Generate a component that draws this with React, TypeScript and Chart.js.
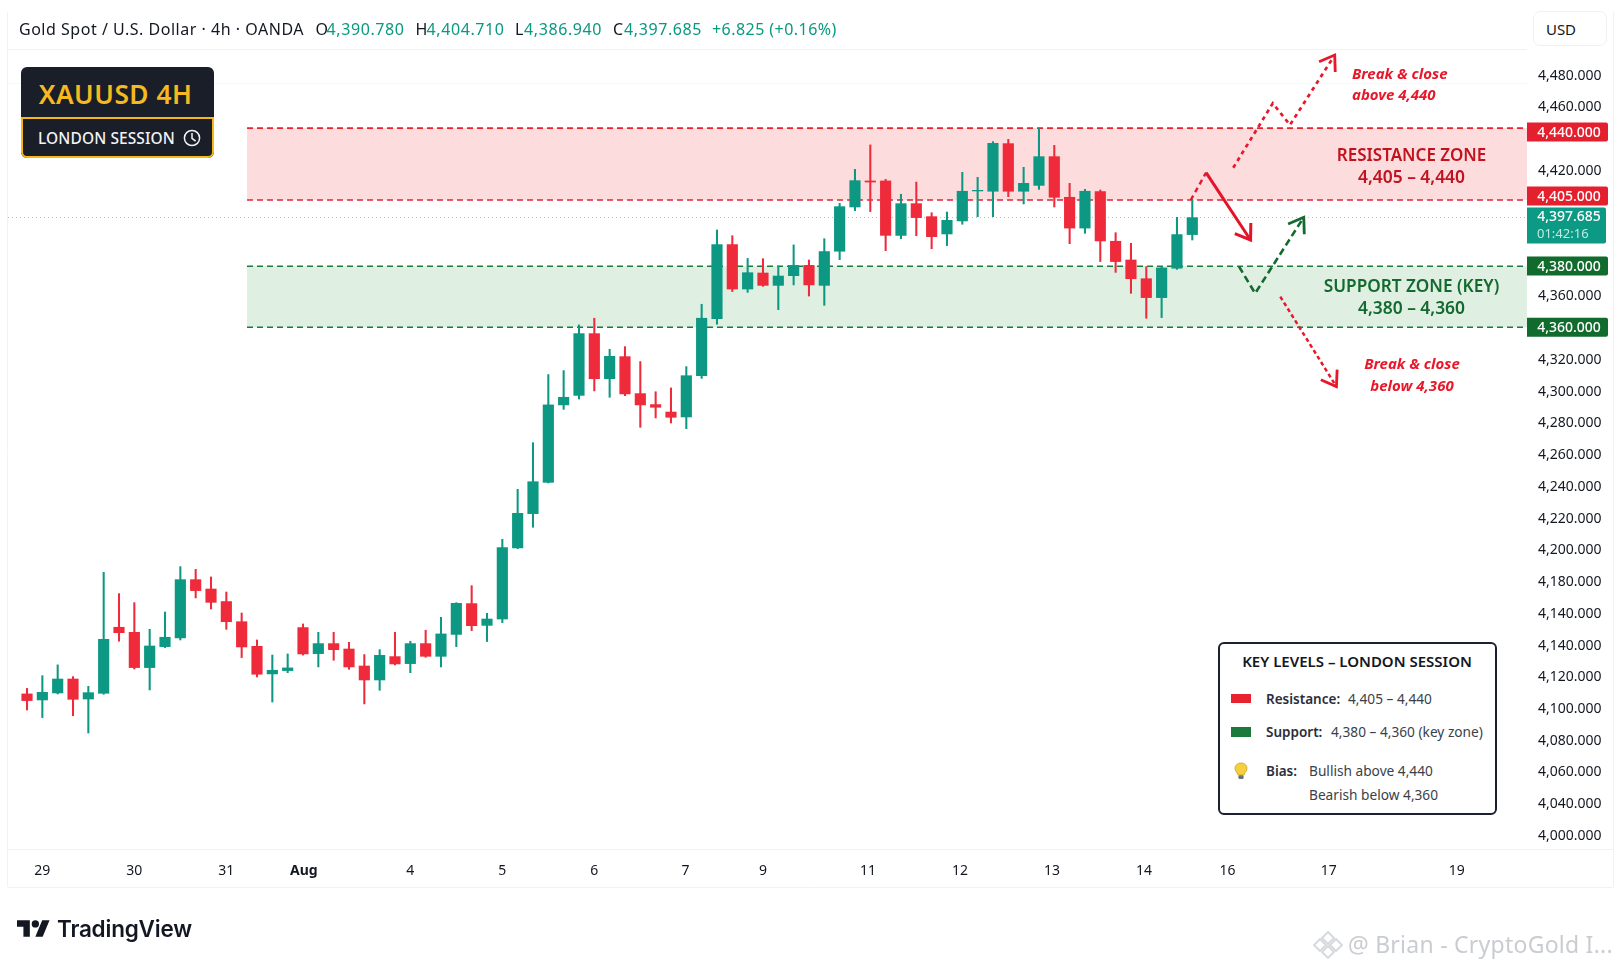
import React, { useEffect, useRef } from "react";
import { Chart, registerables } from "chart.js";

Chart.register(...registerables);

const opens = [4108.5,4104.7,4109.1,4117.9,4105.3,4108.9,4150.5,4147.3,4125.1,4138.3,4143.8,4180.5,4174.6,4166.7,4154,4138.5,4121.1,4123.2,4150.3,4133.9,4140.2,4136.8,4126.1,4117.3,4132,4127.6,4140.2,4132.2,4146,4165.4,4151.7,4155.7,4200.5,4222.1,4241.8,4290.6,4296.6,4335.5,4307.1,4321,4297.7,4290.8,4286.1,4283,4309,4344.9,4391.6,4363.6,4373.7,4365.9,4372,4378.5,4365.9,4387.4,4415.3,4431.7,4431.7,4397.4,4417.4,4409.2,4398.3,4406.5,4425.4,4425.2,4455.2,4425.2,4428.9,4447,4421.4,4402,4425,4393.7,4381.9,4370.1,4358.2,4376.7,4397.9];
const highs = [4112,4120,4126.8,4119.4,4113.3,4185.1,4171.7,4166,4149.2,4160.1,4188.7,4187,4182.2,4172.7,4159.5,4142.5,4133,4133.7,4152.6,4147.3,4147.3,4141,4133.3,4136.4,4147.3,4141.7,4148.6,4156.8,4166,4176.7,4159.3,4205.9,4237.4,4266.8,4309.7,4312.2,4341,4345.2,4325.6,4327.3,4317.9,4298.9,4301.3,4314.7,4354,4400.8,4397.2,4382.9,4382.7,4378.1,4391.4,4381.9,4395.3,4417.6,4439,4454.4,4432.7,4423.3,4431,4411.7,4412.1,4437.1,4434,4456.5,4457.9,4440.3,4464.9,4454.1,4430.2,4426.4,4426,4399.1,4392.4,4377.7,4377.7,4408.8,4419.7];
const lows = [4098.4,4093.6,4108.5,4094.8,4083.9,4108.3,4141.7,4124.2,4111,4137.7,4142.5,4169,4162,4149.2,4131.4,4119.2,4103.4,4121.9,4133,4125.5,4129.7,4124,4102.2,4110.8,4126.8,4121.9,4131.6,4125.5,4138.3,4148.4,4141.5,4153.4,4200,4213.5,4241.4,4287.8,4294.3,4299.4,4295.4,4296.4,4276.5,4282.4,4279.2,4275.6,4307.3,4341.4,4362,4361.5,4365.3,4350.6,4366.2,4359.2,4353.3,4382.1,4413,4412.4,4387.8,4395.3,4397.2,4389,4391,4404.4,4409.2,4409.2,4421.8,4417.2,4426.4,4415.3,4392.2,4398.7,4380.9,4374.1,4360.9,4345.2,4345.6,4376,4394.5];
const closes = [4104.3,4109.5,4117.9,4105.1,4109.3,4142.9,4147.1,4125.1,4138.7,4144.2,4180.5,4173.6,4166.2,4154,4138.1,4120.9,4123.4,4124.9,4133.7,4140.2,4136.4,4125.5,4117.3,4132.8,4127.4,4140.2,4132.2,4146.3,4165.6,4151.5,4155.7,4200.7,4222.3,4242.2,4290.6,4295.4,4335.5,4307.1,4321.2,4297.5,4290.6,4289.1,4282.8,4309,4345.2,4391.6,4363.6,4373.9,4365.9,4371.8,4378.5,4366.2,4387.2,4415.5,4431.9,4431,4397.4,4417.4,4408.6,4396.6,4406.9,4425.2,4425.8,4455.4,4425.2,4430.2,4447,4421.4,4402,4425.2,4393.9,4380.9,4370.1,4358.2,4376.9,4397.9,4408.6];

// X axis
const xTickPositions = [1,7,13,18.05,25,31,37,42.95,48,54.85,60.85,66.85,72.85,78.3,84.9,93.25];
const xTickLabels = ["29","30","31","Aug","4","5","6","7","9","11","12","13","14","16","17","19"];

// Y axis: position on the scale, and the label the picture prints there
const yTickPositions = [4498,4478,4438,4359,4319,4299,4279,4259,4239,4219,4199,4179,4159,4139,4119,4099,4079,4059,4039,4019];
const yTickLabels = ["4,480.000","4,460.000","4,420.000","4,360.000","4,320.000","4,300.000","4,280.000","4,260.000","4,240.000","4,220.000","4,200.000","4,180.000","4,140.000","4,140.000","4,120.000","4,100.000","4,080.000","4,060.000","4,040.000","4,000.000"];

// Zones: where the dashed levels sit on the scale
const resistanceLevels = [4465, 4419.7];
const supportLevels = [4378, 4339.5];
const lastPriceLevel = 4409;
const faintGridLevel = 4493.2;
const zoneStartIndex = 14.35;

// Price badges on the axis
const badgeValues = [4462.5, 4422.2, 4378.1, 4339.5];
const badgeTexts = ["4,440.000", "4,405.000", "4,380.000", "4,360.000"];
const badgeColors = ["#e5202e", "#e5202e", "#116b2c", "#116b2c"];
const lastPriceTexts = ["4,397.685", "01:42:16"];

// Scenario paths (candle index, scale value)
const pathBreakUp = [{x:78.67,y:4440},{x:81.25,y:4480.6},{x:82.37,y:4467},{x:85.29,y:4511}];
const pathRejectLead = [{x:75.9,y:4419.7},{x:76.9,y:4436.9}];
const pathReject = [{x:76.9,y:4436.9},{x:79.8,y:4394.5}];
const pathBounce = [{x:79.05,y:4377.7},{x:80.1,y:4360.9},{x:83.27,y:4408.8}];
const pathBreakDown = [{x:81.74,y:4358.8},{x:85.4,y:4302.1}];

const UP = "#0c9882";
const DOWN = "#ee2a3b";
const RED = "#e8182a";
const FONT = '"Noto Sans"';

const stagePlugin = {
  id: "stage",
  beforeDatasetsDraw(chart: any) {
    const { ctx, chartArea: a, scales: { x, y } } = chart;
    const zx = x.getPixelForValue(zoneStartIndex);
    ctx.save();
    ctx.strokeStyle = "#f1f2f5";
    ctx.lineWidth = 1;
    const line = (x0: number, y0: number, x1: number, y1: number) => {
      ctx.beginPath(); ctx.moveTo(x0, y0); ctx.lineTo(x1, y1); ctx.stroke();
    };
    line(a.left - 0.5, 12, a.left - 0.5, 887);
    line(1613.5, 12, 1613.5, 887);
    line(a.left, a.top - 0.5, a.right, a.top - 0.5);
    line(a.left, a.bottom + 0.5, 1613, a.bottom + 0.5);
    line(a.left, 887.5, 1613, 887.5);
    ctx.strokeStyle = "#f6f7f9";
    line(a.left, y.getPixelForValue(faintGridLevel), a.right, y.getPixelForValue(faintGridLevel));
    const zone = (levels: number[], fill: string, stroke: string) => {
      const t = y.getPixelForValue(levels[0]);
      const b = y.getPixelForValue(levels[1]);
      ctx.fillStyle = fill;
      ctx.fillRect(zx, t, a.right - zx, b - t);
      ctx.strokeStyle = stroke;
      ctx.lineWidth = 1.6;
      ctx.setLineDash([6, 4]);
      line(zx, t, a.right, t);
      line(zx, b, a.right, b);
      ctx.setLineDash([]);
    };
    zone(resistanceLevels, "#fddcdd", "#e8232f");
    zone(supportLevels, "#dfefe2", "#1b7a3c");
    ctx.strokeStyle = "#86d6c7";
    ctx.lineWidth = 1;
    ctx.setLineDash([1, 3]);
    const lp = Math.round(y.getPixelForValue(lastPriceLevel)) + 0.5;
    line(a.left, lp, a.right, lp);
    ctx.restore();
  },
  afterDatasetsDraw(chart: any) {
    const { ctx, data } = chart;
    data.datasets.forEach((ds: any, i: number) => {
      if (!ds.arrowHead) return;
      const pts = chart.getDatasetMeta(i).data;
      const p = pts[pts.length - 1];
      const q = pts[pts.length - 2];
      const ang = Math.atan2(p.y - q.y, p.x - q.x);
      ctx.save();
      ctx.strokeStyle = ds.borderColor;
      ctx.lineWidth = ds.arrowWidth;
      ctx.lineCap = "butt";
      ctx.lineJoin = "miter";
      ctx.beginPath();
      ctx.moveTo(p.x - 17 * Math.cos(ang - 0.6), p.y - 17 * Math.sin(ang - 0.6));
      ctx.lineTo(p.x, p.y);
      ctx.lineTo(p.x - 17 * Math.cos(ang + 0.6), p.y - 17 * Math.sin(ang + 0.6));
      ctx.stroke();
      ctx.restore();
    });
  },
  afterDraw(chart: any) {
    const { ctx, chartArea: a, scales: { y } } = chart;
    ctx.save();
    ctx.textBaseline = "middle";
    const textX = 1569;
    const round = (x0: number, y0: number, w: number, h: number, fill: string) => {
      ctx.fillStyle = fill;
      ctx.beginPath();
      ctx.roundRect(x0, y0, w, h, [0, 2, 2, 0]);
      ctx.fill();
    };
    badgeValues.forEach((v, i) => {
      const c = y.getPixelForValue(v);
      round(a.right, c - 9.5, 81, 19, badgeColors[i]);
      ctx.fillStyle = "#ffffff";
      ctx.textAlign = "center";
      ctx.font = `500 14px ${FONT}`;
      ctx.fillText(badgeTexts[i], textX, c + 0.5);
    });
    const c = y.getPixelForValue(lastPriceLevel);
    round(a.right, c - 9.5, 79, 36, "#0c9a85");
    ctx.textAlign = "center";
    ctx.fillStyle = "#ffffff";
    ctx.font = `500 14px ${FONT}`;
    ctx.fillText(lastPriceTexts[0], textX, c);
    ctx.fillStyle = "#bfe9e1";
    ctx.font = `400 13px ${FONT}`;
    ctx.textAlign = "left";
    ctx.fillText(lastPriceTexts[1], 1537, c + 17);
    ctx.restore();
  },
};

const T = ({ x, y, c = "#131722", s = 14, w = 400, i = false, center = false, f = FONT, ls = 0, children }: any) => (
  <div
    style={{
      position: "absolute",
      left: x,
      top: y,
      transform: center ? "translate(-50%,-50%)" : "translateY(-50%)",
      color: c,
      fontSize: s,
      fontWeight: w,
      fontStyle: i ? "italic" : "normal",
      fontFamily: f,
      letterSpacing: ls,
      whiteSpace: "nowrap",
      lineHeight: 1.2,
    }}
  >
    {children}
  </div>
);

const TEAL = "#089981";

export default function App() {
  const ref = useRef<HTMLCanvasElement>(null);

  useEffect(() => {
    const idx = opens.map((_, i) => i);
    const colors = idx.map((i) => (closes[i] >= opens[i] ? UP : DOWN));
    const pathDs = (data: any[], color: string, dash: number[], width: number, head: boolean) => ({
      type: "line" as const,
      data,
      borderColor: color,
      borderDash: dash,
      borderWidth: width,
      pointRadius: 0,
      tension: 0,
      order: 0,
      arrowHead: head,
      arrowWidth: Math.max(width, 2.8),
    });
    const chart = new Chart(ref.current as HTMLCanvasElement, {
      type: "bar",
      data: {
        datasets: [
          pathDs(pathBreakUp, RED, [4, 4], 2.7, true),
          pathDs(pathRejectLead, RED, [5, 4], 2.4, false),
          pathDs(pathReject, "#e5132a", [], 3, true),
          pathDs(pathBounce, "#14692f", [7, 4], 2.6, true),
          pathDs(pathBreakDown, RED, [4, 3], 2.5, true),
          {
            type: "bar" as const,
            data: idx.map((i) => ({ x: i, y: [opens[i], closes[i]] })),
            backgroundColor: colors,
            barThickness: 10.5,
            grouped: false,
            order: 1,
          },
          {
            type: "bar" as const,
            data: idx.map((i) => ({ x: i, y: [lows[i], highs[i]] })),
            backgroundColor: colors,
            barThickness: 1.4,
            grouped: false,
            order: 2,
          },
        ] as any,
      },
      plugins: [stagePlugin],
      options: {
        animation: false,
        responsive: false,
        devicePixelRatio: 1,
        events: [],
        parsing: { xAxisKey: "x", yAxisKey: "y" } as any,
        layout: { padding: { left: 8, right: 8, top: 50, bottom: 83 } },
        plugins: { legend: { display: false }, tooltip: { enabled: false } },
        scales: {
          x: {
            type: "linear",
            offset: false,
            min: -1.24,
            max: 97.83,
            grid: { display: false },
            border: { display: false },
            afterBuildTicks: (s: any) => {
              s.ticks = xTickPositions.map((value) => ({ value }));
            },
            afterFit: (s: any) => { s.height = 38; },
            ticks: {
              autoSkip: false,
              maxRotation: 0,
              padding: 6,
              color: "#131722",
              font: (ctx: any) => ({
                family: "Noto Sans",
                size: 14,
                weight: xTickLabels[ctx.index] === "Aug" ? "bold" : "normal",
              }),
              callback: (_v: any, i: number) => xTickLabels[i],
            },
          },
          y: {
            type: "linear",
            position: "right",
            min: 4010.8,
            max: 4514.2,
            grid: { display: false },
            border: { display: false },
            afterBuildTicks: (s: any) => {
              s.ticks = yTickPositions.map((value) => ({ value }));
            },
            afterFit: (s: any) => { s.width = 86; },
            ticks: {
              autoSkip: false,
              padding: 3,
              color: "#131722",
              font: { family: "Noto Sans", size: 14 },
              callback: (_v: any, i: number) => yTickLabels[i],
            },
          },
        },
      },
    });
    return () => chart.destroy();
  }, []);

  return (
    <div style={{ position: "absolute", left: 0, top: 0, width: 1621, height: 970, overflow: "hidden", background: "#fff" }}>
      <canvas ref={ref} width={1621} height={970} style={{ position: "absolute", left: 0, top: 0, display: "block" }} />

      {/* header */}
      <T x={19} y={30} s={16} ls={0.52}>Gold Spot / U.S. Dollar · 4h · OANDA</T>
      <T x={315.5} y={30} s={16} ls={0.6}>O</T>
      <T x={326.5} y={30} s={16} c={TEAL} ls={0.6}>4,390.780</T>
      <T x={415.5} y={30} s={16} ls={0.6}>H</T>
      <T x={426.5} y={30} s={16} c={TEAL} ls={0.6}>4,404.710</T>
      <T x={515} y={30} s={16} ls={0.6}>L</T>
      <T x={524} y={30} s={16} c={TEAL} ls={0.6}>4,386.940</T>
      <T x={613} y={30} s={16} ls={0.6}>C</T>
      <T x={624} y={30} s={16} c={TEAL} ls={0.6}>4,397.685</T>
      <T x={712} y={30} s={16} c={TEAL} ls={0.45}>+6.825 (+0.16%)</T>

      {/* USD button */}
      <div style={{ position: "absolute", left: 1533, top: 11, width: 74, height: 35, border: "1px solid #eef0f3", borderRadius: 7, background: "#fff", boxSizing: "border-box" }} />
      <T x={1561} y={28.5} s={15} center>USD</T>

      {/* title card */}
      <div style={{ position: "absolute", left: 21, top: 67, width: 193, height: 91, borderRadius: 6, background: "#1a1e29", boxSizing: "border-box" }} />
      <div style={{ position: "absolute", left: 21, top: 117, width: 193, height: 41, border: "2px solid #f4b81c", borderRadius: "0 0 6px 6px", boxSizing: "border-box" }} />
      <T x={115.5} y={95} s={26.3} w={600} c="#f6b91e" center ls={0.5}>XAUUSD 4H</T>
      <T x={38} y={138} s={15.5} w={500} c="#f2f3f5" ls={0.1}>LONDON SESSION</T>
      <svg style={{ position: "absolute", left: 183, top: 129 }} width="18" height="18" viewBox="0 0 18 18" fill="none" stroke="#f2f3f5" strokeWidth="1.5">
        <circle cx="9" cy="9" r="7.6" />
        <path d="M9 4 V9.3 L12.6 12.2" />
      </svg>

      {/* zone labels */}
      <T x={1411.5} y={155} s={17} w={600} c="#c1121f" center>RESISTANCE ZONE</T>
      <T x={1411.5} y={176} s={17.4} w={600} c="#c1121f" center>4,405 – 4,440</T>
      <T x={1411.5} y={286} s={17.2} w={600} c="#14692f" center>SUPPORT ZONE (KEY)</T>
      <T x={1411.5} y={307} s={17.4} w={600} c="#14692f" center>4,380 – 4,360</T>

      <T x={1352} y={73} s={15} w={700} i c={RED}>Break &amp; close</T>
      <T x={1352} y={94} s={15} w={700} i c={RED}>above 4,440</T>
      <T x={1412} y={363} s={15} w={700} i c={RED} center>Break &amp; close</T>
      <T x={1412} y={385} s={15} w={700} i c={RED} center>below 4,360</T>

      {/* key levels */}
      <div style={{ position: "absolute", left: 1218, top: 642, width: 279, height: 173, border: "2px solid #1c2030", borderRadius: 6, background: "#fff", boxSizing: "border-box" }} />
      <T x={1357} y={661} s={15} w={600} center>KEY LEVELS – LONDON SESSION</T>
      <div style={{ position: "absolute", left: 1231, top: 694, width: 20, height: 9, background: "#e8232f" }} />
      <T x={1266} y={699} s={13.5} w={600} c="#2a2e39">Resistance:</T>
      <T x={1348} y={699} s={13.7} c="#3a3f4b">4,405 – 4,440</T>
      <div style={{ position: "absolute", left: 1231, top: 727, width: 20, height: 10, background: "#1b7a3c" }} />
      <T x={1266} y={732} s={13.5} w={600} c="#2a2e39">Support:</T>
      <T x={1331} y={732} s={13.7} c="#3a3f4b">4,380 – 4,360 (key zone)</T>
      <svg style={{ position: "absolute", left: 1233, top: 762 }} width="16" height="18" viewBox="0 0 16 18">
        <path d="M8 1 C4 1 2 3.6 2 6.4 C2 9 4.2 10 5 13 H11 C11.8 10 14 9 14 6.4 C14 3.6 12 1 8 1 Z" fill="#f5cf3d" stroke="#c9a227" strokeWidth="0.8" />
        <rect x="5.4" y="13.3" width="5.2" height="3.6" rx="1.2" fill="#6b6f78" />
      </svg>
      <T x={1266} y={771} s={13.5} w={600} c="#2a2e39">Bias:</T>
      <T x={1309} y={771} s={13.7} c="#3a3f4b">Bullish above 4,440</T>
      <T x={1309} y={794.5} s={13.7} c="#3a3f4b">Bearish below 4,360</T>

      {/* TradingView mark */}
      <svg style={{ position: "absolute", left: 17, top: 919 }} width="33" height="19" viewBox="0 4 36 18" fill="#131722">
        <path d="M14 22H7V11H0V4h14v18zM28 22h-8l7.5-18h8L28 22z" />
        <circle cx="20" cy="8" r="4" />
      </svg>
      <T x={57} y={928} s={22.5} w={600} f="Inter" ls={-0.2}>TradingView</T>

      {/* watermark */}
      <svg style={{ position: "absolute", left: 1313, top: 930 }} width="30" height="30" viewBox="0 0 30 30" fill="none" stroke="#d4d7db" strokeWidth="1.8">
        <path d="M15 2 L21 8 L15 14 L9 8 Z" />
        <path d="M7 9 L13 15 L7 21 L1 15 Z" />
        <path d="M23 9 L29 15 L23 21 L17 15 Z" />
        <path d="M15 16 L21 22 L15 28 L9 22 Z" />
      </svg>
      <T x={1348} y={945} s={23} c="#c9ccd1" ls={0.25}>@ Brian - CryptoGold I...</T>
    </div>
  );
}
